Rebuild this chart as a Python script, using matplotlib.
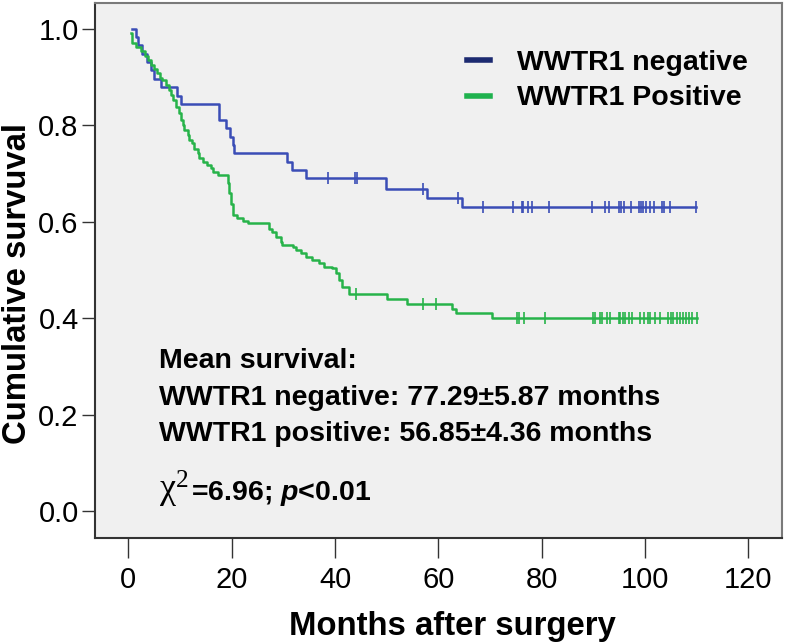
import numpy as np
import matplotlib
matplotlib.use('Agg')
import matplotlib.pyplot as plt
from matplotlib.lines import Line2D

plt.rcParams['font.family'] = ['Liberation Sans', 'DejaVu Sans']
plt.rcParams['mathtext.fontset'] = 'custom'
plt.rcParams['mathtext.rm'] = 'Liberation Serif'
plt.rcParams['mathtext.it'] = 'Liberation Sans:italic:bold'

# WWTR1 negative: step times (months) and survival after each step
neg_times = [0.8, 1.4, 1.9, 2.6, 3.7, 4.4, 5.0, 6.3, 9.5, 10.2, 17.5, 18.9, 19.6,
             20.3, 20.5, 30.7, 31.6, 34.3, 49.8, 57.8, 64.5]
neg_surv = [1.0, 0.983, 0.966, 0.949, 0.932, 0.914, 0.897, 0.880, 0.862, 0.845,
            0.811, 0.794, 0.777, 0.759, 0.742, 0.725, 0.708, 0.690, 0.668, 0.650, 0.630]
neg_censor = [38.6, 43.8, 44.3, 57.0, 63.8, 68.7, 74.5, 76.1, 76.3, 77.4, 78.1, 81.5,
              89.7, 92.2, 93.1, 95.0, 95.4, 95.9, 97.3, 98.9, 99.2, 99.6, 100.2, 101.0,
              101.8, 103.2, 103.7, 104.9, 109.9]

# WWTR1 positive
pos_times = [0.5, 0.7, 1.5, 2.4, 3.2, 3.9, 4.4, 5.0, 5.6, 6.1, 6.6, 7.3, 7.9, 8.2,
             8.6, 9.2, 9.9, 10.2, 10.5, 10.8, 11.5, 11.8, 12.4, 12.8, 13.4, 13.7,
             14.4, 15.3, 16.0, 16.3, 17.3, 19.2, 19.5, 19.8, 20.2, 21.1, 22.1, 23.1,
             27.2, 27.9, 28.5, 29.5, 29.8, 31.8, 32.4, 33.4, 34.3, 35.6, 36.9, 37.9,
             39.5, 40.1, 40.8, 41.4, 42.7, 50.1, 54.0, 62.6, 63.4, 70.3]
pos_surv = [0.991, 0.972, 0.963, 0.954, 0.945, 0.935, 0.926, 0.917, 0.908, 0.899,
            0.894, 0.884, 0.874, 0.863, 0.853, 0.839, 0.825, 0.811, 0.801, 0.791,
            0.780, 0.770, 0.763, 0.752, 0.742, 0.732, 0.725, 0.718, 0.711, 0.704,
            0.697, 0.680, 0.659, 0.638, 0.614, 0.607, 0.602, 0.597, 0.586, 0.579,
            0.569, 0.559, 0.552, 0.548, 0.542, 0.535, 0.528, 0.521, 0.514, 0.507,
            0.504, 0.494, 0.479, 0.465, 0.450, 0.440, 0.430, 0.420, 0.410, 0.400]
pos_censor = [44.1, 57.0, 59.6, 75.2, 75.6, 76.5, 80.7, 90.0, 90.4, 91.3, 91.7, 92.6,
              93.3, 94.9, 95.2, 95.7, 96.2, 96.8, 97.5, 99.1, 99.7, 100.5, 101.0, 102.0,
              102.9, 104.5, 105.0, 105.5, 106.1, 106.7, 107.3, 107.9, 108.5, 109.0, 110.0]

x_ticks = [0, 20, 40, 60, 80, 100, 120]
y_ticks = [0.0, 0.2, 0.4, 0.6, 0.8, 1.0]
labels = ['WWTR1 negative', 'WWTR1 Positive']

col_neg = '#3a4db6'
col_pos = '#27b34a'
leg_neg = '#1c2a70'
leg_pos = '#1fb24e'

fig = plt.figure(figsize=(7.85, 6.43), dpi=100)
ax = fig.add_axes([0.1204, 0.1633, 0.8758, 0.832])
ax.set_facecolor('#f0f0f0')


def km_draw(times, surv, cens, color):
    t = np.array(times)
    s = np.array(surv)
    c = np.array(cens)
    ax.step(np.append(t, c.max()), np.append(s, s[-1]), where='post',
            color=color, lw=1.8)
    idx = np.searchsorted(t, c, side='right') - 1
    ax.plot(c, s[idx], linestyle='none', marker='|', ms=8, mew=1.2, color=color)


km_draw(neg_times, neg_surv, neg_censor, col_neg)
km_draw(pos_times, pos_surv, pos_censor, col_pos)

ax.set_xlim(-6.54, 126.5)
ax.set_ylim(-0.056, 1.054)
ax.set_xticks(x_ticks)
ax.set_xticklabels([str(v) for v in x_ticks])
ax.set_yticks(y_ticks)
ax.set_yticklabels(['%.1f' % v for v in y_ticks])

tick_font = ['Liberation Sans Narrow', 'Liberation Sans']
for lab in ax.get_xticklabels() + ax.get_yticklabels():
    lab.set_family(tick_font)
    lab.set_fontsize(21)
ax.tick_params(axis='x', length=14.4, width=1.0, pad=6, color='#333333')
ax.tick_params(axis='y', length=9.4, width=1.0, pad=2, color='#333333')

for side in ['left', 'bottom']:
    ax.spines[side].set_color('#333333')
    ax.spines[side].set_linewidth(1.5)
for side in ['top', 'right']:
    ax.spines[side].set_color('#7a7a7a')
    ax.spines[side].set_linewidth(1.5)

ax.set_xlabel('Months after surgery', fontsize=23.7, fontweight='bold')
ax.xaxis.set_label_coords(0.52, -0.136)
ax.set_ylabel('Cumulative survuval', fontsize=23.7, fontweight='bold', va='baseline')
ax.yaxis.set_label_coords(-0.0996, 0.475)

handles = [Line2D([], [], color=leg_neg, lw=4), Line2D([], [], color=leg_pos, lw=4)]
ax.legend(handles, labels, loc='upper left', bbox_to_anchor=(0.542, 0.912),
          frameon=False, prop=dict(family='Liberation Sans', weight='bold', size=20.5),
          handlelength=0.8, handletextpad=0.95, labelspacing=0.33,
          borderpad=0, borderaxespad=0)

txt = dict(transform=ax.transAxes, fontsize=20.5, fontweight='bold',
           ha='left', va='baseline')
ax.text(0.094, 0.318, 'Mean survival:', **txt)
ax.text(0.094, 0.249, 'WWTR1 negative: 77.29\u00b15.87 months', **txt)
ax.text(0.094, 0.181, 'WWTR1 positive: 56.85\u00b14.36 months', **txt)

# chi-square line: larger chi symbol, then the bold rest placed right after it
chi = ax.text(0.094, 0.071, r'$\mathrm{\chi^{2}}$', transform=ax.transAxes,
              fontsize=26, ha='left', va='baseline')
fig.canvas.draw()
bb = chi.get_window_extent()
x_next = ax.transAxes.inverted().transform((bb.x1 + 2, bb.y0))[0]
ax.text(x_next, 0.071, '=6.96; $p$<0.01', **txt)

fig.savefig('out.png', dpi=100, facecolor='white')
